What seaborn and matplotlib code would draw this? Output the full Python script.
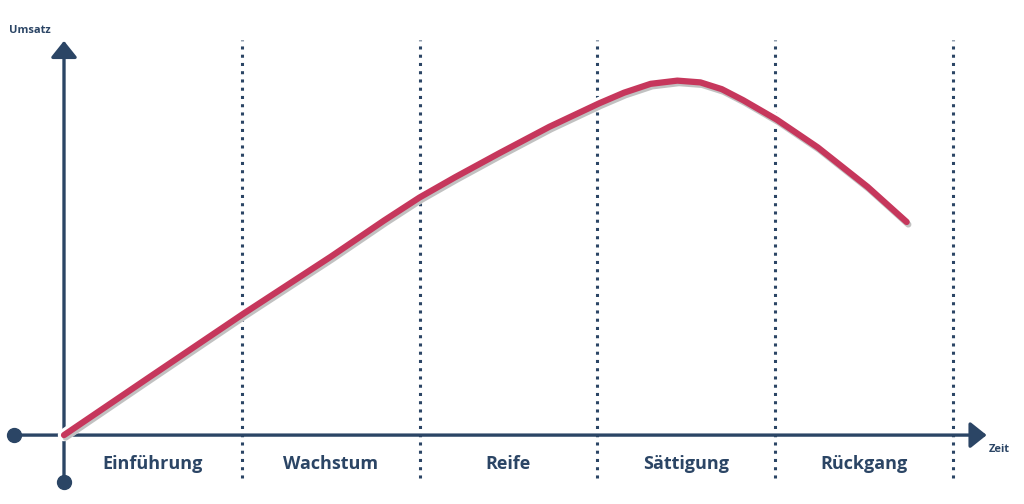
import matplotlib
matplotlib.use('Agg')
import matplotlib.pyplot as plt
import matplotlib.patheffects as pe
import seaborn as sns

# Produktlebenszyklus: Umsatz über die Zeit (Phasen-Einheiten 0..5)
zeit = [0.0, 0.48, 1.01, 1.50, 1.80, 2.00, 2.20, 2.45, 2.73, 3.01,
        3.15, 3.30, 3.45, 3.58, 3.70, 3.82, 4.01, 4.24, 4.52, 4.74]
umsatz = [0.0, 16.3, 34.2, 50.2, 60.4, 66.9, 72.6, 79.4, 86.8, 93.4,
          96.4, 98.9, 99.8, 99.3, 97.4, 94.3, 88.8, 81.0, 69.9, 60.0]

phasen = ['Einführung', 'Wachstum', 'Reife', 'Sättigung', 'Rückgang']
grenzen = [1, 2, 3, 4, 5]

navy = '#2b4565'
rot = '#c6375c'

sns.set_style('white')
plt.rcParams['font.family'] = ['Open Sans', 'DejaVu Sans']

fig = plt.figure(figsize=(10.24, 5.04), dpi=100)
ax = fig.add_axes([0, 0, 1, 1])
ax.set_xlim(-0.36, 5.40)
ax.set_ylim(-19.4, 122.5)
ax.axis('off')

# gepunktete Phasengrenzen
for g in grenzen:
    ax.plot([g, g], [-12.1, 111.3], color=navy, lw=2.2,
            linestyle=(0, (1, 1.7)), dash_capstyle='butt', zorder=1)

# Achsen mit Pfeilen und Punkten
arrow_kw = dict(arrowstyle='-|>,head_length=0.5,head_width=0.4',
                color=navy, lw=2.4, shrinkA=0, shrinkB=0, mutation_scale=20)
ax.annotate('', xy=(0, 111.0), xytext=(0, -13.2), arrowprops=arrow_kw, zorder=3)
ax.annotate('', xy=(5.19, 0), xytext=(-0.281, 0), arrowprops=arrow_kw, zorder=3)
ax.plot([-0.281], [0], 'o', color=navy, ms=10, zorder=3)
ax.plot([0], [-13.2], 'o', color=navy, ms=10, zorder=3)

# Umsatzkurve
sns.lineplot(x=zeit, y=umsatz, ax=ax, sort=False, color=rot, lw=4.5,
             solid_capstyle='round', solid_joinstyle='round', zorder=4,
             path_effects=[pe.Stroke(linewidth=9, foreground='white'),
                           pe.SimpleLineShadow(offset=(1.2, -1.8), shadow_color='#777777', alpha=0.45),
                           pe.Normal()])

# Beschriftungen
for i, name in enumerate(phasen):
    ax.text(i + 0.5, -8.0, name, ha='center', va='center', fontsize=13,
            fontweight='bold', color=navy)
ax.text(-0.19, 113.8, 'Umsatz', ha='center', va='center', fontsize=8,
        fontweight='bold', color=navy)
ax.text(5.26, -4.0, 'Zeit', ha='center', va='center', fontsize=8,
        fontweight='bold', color=navy)

fig.savefig('out.png', dpi=100)
